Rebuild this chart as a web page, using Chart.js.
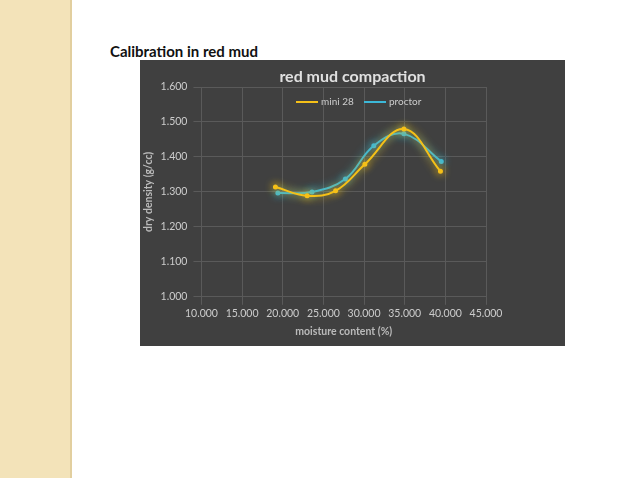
<!DOCTYPE html><html><head><meta charset="utf-8">
<script src="https://cdn.jsdelivr.net/npm/chart.js@4"></script>
<style>
body{margin:0;width:638px;height:478px;background:#fff;position:relative;overflow:hidden;font-family:Lato,"Open Sans",sans-serif}
#strip{position:absolute;left:0;top:0;width:70px;height:478px;background:#f3e3b9;border-right:2px solid #e2cf9f}
#hd{position:absolute;left:110px;top:42px;font-size:15px;font-weight:bold;color:#111}
#box{position:absolute;left:140px;top:60px;width:425px;height:286px;background:#404040}
#tt{position:absolute;left:140px;top:66px;width:425px;text-align:center;font-size:16px;font-weight:bold;color:#e0e0e0;padding-left:0}
#lg{position:absolute;left:296px;top:95px;font-size:10px;color:#ccc;white-space:nowrap}
#lg span.l{display:inline-block;width:22px;height:2px;vertical-align:middle;margin-right:3px}
</style></head><body>
<div id="strip"></div><div id="hd">Calibration in red mud</div>
<div id="box"><canvas id="c" width="425" height="286"></canvas></div>
<div id="tt">red mud compaction</div>
<div id="lg"><span class="l" style="background:#f5c018"></span>mini 28 &nbsp;&nbsp;&nbsp;<span class="l" style="background:#3cb8d8"></span>proctor</div>
<script>
const miniX=[19.1,23.0,26.5,30.1,34.9,39.4];
const miniY=[1.314,1.289,1.303,1.379,1.480,1.359];
const procX=[19.4,23.6,27.7,31.2,34.9,39.5];
const procY=[1.297,1.300,1.337,1.432,1.466,1.387];
const pts=(xs,ys)=>xs.map((x,i)=>({x,y:ys[i]}));
const glow={id:'glow',beforeDatasetDraw(ch,a){const c=ch.ctx;c.save();c.shadowColor=a.meta.dataset.options.borderColor;c.shadowBlur=8;},afterDatasetDraw(ch){ch.ctx.restore();}};
new Chart(document.getElementById('c'),{type:'scatter',
data:{datasets:[
{label:'mini 28',data:pts(miniX,miniY),showLine:true,tension:0.4,borderColor:'#f5c018',backgroundColor:'#f5c018',borderWidth:2,pointRadius:1.5},
{label:'proctor',data:pts(procX,procY),showLine:true,tension:0.4,borderColor:'#3cb8d8',backgroundColor:'#3cb8d8',borderWidth:2,pointRadius:1.5}]},
plugins:[glow],
options:{responsive:false,animation:false,layout:{padding:{left:2,right:79,top:27,bottom:8}},
plugins:{legend:{display:false},tooltip:{enabled:false}},
scales:{x:{min:10,max:45,ticks:{stepSize:5,color:'#ccc',font:{family:'Lato',size:10.5},callback:v=>v.toFixed(3),maxRotation:0},grid:{color:'#5a5a5a'},border:{display:false},
title:{display:true,text:'moisture content (%)',color:'#bbb',font:{family:'Lato',size:10.5,weight:'bold'},padding:{top:2,bottom:0}}},
y:{min:1,max:1.6,ticks:{stepSize:0.1,color:'#ccc',font:{family:'Lato',size:10.5},callback:v=>v.toFixed(3),padding:6},grid:{color:'#5a5a5a'},border:{display:false},
title:{display:true,text:'dry density (g/cc)',color:'#bbb',font:{family:'Lato',size:10.5,weight:'bold'},padding:0}}}}});
</script></body></html>
